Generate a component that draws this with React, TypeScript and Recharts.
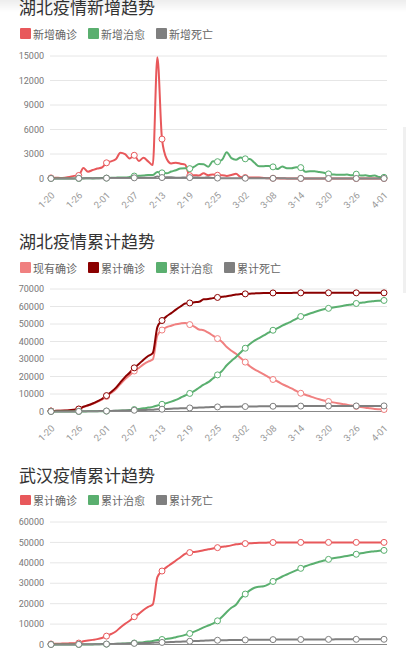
import { LineChart, Line, XAxis, YAxis, CartesianGrid } from 'recharts';

// 日期 1-20 ~ 4-01
const dates = [
  '1-20', '1-21', '1-22', '1-23', '1-24', '1-25', '1-26', '1-27', '1-28', '1-29', '1-30', '1-31',
  '2-01', '2-02', '2-03', '2-04', '2-05', '2-06', '2-07', '2-08', '2-09', '2-10',
  '2-11', '2-12', '2-13', '2-14', '2-15', '2-16', '2-17', '2-18', '2-19', '2-20',
  '2-21', '2-22', '2-23', '2-24', '2-25', '2-26', '2-27', '2-28', '2-29',
  '3-01', '3-02', '3-03', '3-04', '3-05', '3-06', '3-07', '3-08', '3-09', '3-10',
  '3-11', '3-12', '3-13', '3-14', '3-15', '3-16', '3-17', '3-18', '3-19', '3-20',
  '3-21', '3-22', '3-23', '3-24', '3-25', '3-26', '3-27', '3-28', '3-29', '3-30', '3-31',
  '4-01',
];

// 湖北新增
const hbNewConfirmed = [
  72, 105, 69, 105, 180, 323, 371, 1291, 840, 1032, 1220, 1347,
  1921, 2103, 2345, 3156, 2987, 2447, 2841, 2147, 2531, 2097, 1638, 14840, 4823, 2420, 1843, 1933, 1807, 1693,
  349, 411, 366, 630, 398, 499, 401, 409, 318, 423, 570,
  196, 114, 115, 134, 126, 74, 41, 36, 17, 13, 8, 5, 4, 4, 4, 1, 1, 0, 0, 0,
  0, 0, 0, 0, 0, 0, 0, 0, 0, 0, 0,
  0,
];
const hbNewCured = [
  3, 0, 3, 3, 1, 10, 2, 3, 33, 10, 26, 50,
  49, 80, 101, 124, 113, 184, 298, 324, 356, 427, 417, 802, 690, 643, 849, 1016, 1223, 1266,
  1209, 1451, 1769, 1742, 1449, 2106, 2058, 2288, 3203, 2492, 2292,
  2570, 2410, 2389, 1923, 1487, 1502, 1543, 1422, 1152, 1471, 1242, 1255, 1390, 1335, 816, 893, 896, 795, 703, 561,
  491, 446, 445, 487, 390, 531, 366, 396, 299, 360, 173,
  145,
];
const hbNewDead = [
  6, 3, 8, 7, 15, 13, 24, 24, 25, 37, 42, 45,
  45, 56, 64, 65, 70, 69, 81, 81, 91, 103, 94, 242, 116, 139, 139, 100, 93, 132,
  108, 115, 106, 96, 149, 68, 52, 26, 41, 45, 34,
  42, 31, 37, 31, 29, 28, 27, 21, 17, 22, 10, 6, 13, 10, 14, 12, 11, 8, 2, 7,
  5, 9, 7, 3, 6, 5, 3, 5, 4, 1, 6,
  6,
];

// 湖北累计
const hbCurrent = [
  239, 341, 399, 494, 658, 958, 1303, 2567, 3349, 4334, 5486, 6738,
  8565, 10532, 12712, 15679, 18483, 20677, 23139, 24881, 26965, 28532, 29659, 43455, 46537, 48175, 49030, 49847, 50338, 50633,
  49665, 48510, 46855, 46439, 45044, 43369, 41660, 39755, 36829, 34715, 32959,
  30543, 28216, 25905, 24085, 22695, 21239, 19710, 18303, 17151, 15671, 14427, 13171, 11772, 10431, 9605, 8701, 7795, 6992, 6287, 5719,
  5223, 4768, 4317, 3827, 3431, 2895, 2526, 2125, 1822, 1461, 1283,
  1132,
];
const hbConfirmed = [
  270, 375, 444, 549, 729, 1052, 1423, 2714, 3554, 4586, 5806, 7153,
  9074, 11177, 13522, 16678, 19665, 22112, 24953, 27100, 29631, 31728, 33366, 48206, 51986, 54406, 56249, 58182, 59989, 61682,
  62031, 62442, 62662, 64084, 64287, 64786, 65187, 65596, 65914, 66337, 66907,
  67103, 67217, 67332, 67466, 67592, 67666, 67707, 67743, 67760, 67773, 67781, 67786, 67790, 67794, 67798, 67799, 67800, 67800, 67800, 67800,
  67800, 67800, 67801, 67801, 67801, 67801, 67801, 67801, 67801, 67801, 67802,
  67802,
];
const hbCured = [
  25, 25, 28, 31, 32, 42, 44, 47, 80, 90, 116, 166,
  215, 295, 396, 520, 633, 817, 1115, 1439, 1795, 2222, 2639, 3441, 4131, 4774, 5623, 6639, 7862, 9128,
  10337, 11788, 13557, 15299, 16748, 18854, 20912, 23200, 26403, 28895, 31187,
  33757, 36167, 38556, 40479, 41966, 43468, 45011, 46433, 47585, 49056, 50298, 51553, 52943, 54278, 55094, 55987, 56883, 57678, 58381, 58942,
  59433, 59879, 60324, 60811, 61201, 61732, 62098, 62494, 62793, 63153, 63326,
  63471,
];
const hbDead = [
  6, 9, 17, 24, 39, 52, 76, 100, 125, 162, 204, 249,
  294, 350, 414, 479, 549, 618, 699, 780, 871, 974, 1068, 1310, 1318, 1457, 1596, 1696, 1789, 1921,
  2029, 2144, 2250, 2346, 2495, 2563, 2615, 2641, 2682, 2727, 2761,
  2803, 2834, 2871, 2902, 2931, 2959, 2986, 3007, 3024, 3046, 3056, 3062, 3075, 3085, 3099, 3111, 3122, 3130, 3132, 3139,
  3144, 3153, 3160, 3163, 3169, 3174, 3177, 3182, 3186, 3187, 3193,
  3199,
];

// 武汉累计
const whConfirmed = [
  258, 363, 425, 495, 572, 618, 698, 1590, 1905, 2261, 2639, 3215,
  4109, 5142, 6384, 8351, 10117, 11618, 13603, 14982, 16902, 18454, 19558, 32994, 35991, 37914, 39462, 41152, 42752, 44412,
  45027, 45346, 45660, 46201, 46607, 47071, 47441, 47824, 48137, 48557, 49122,
  49315, 49426, 49540, 49671, 49797, 49871, 49912, 49948, 49965, 49978, 49986, 49991, 49995, 49999, 50003, 50004, 50005, 50005, 50005, 50005,
  50005, 50005, 50006, 50006, 50006, 50006, 50006, 50006, 50006, 50006, 50006,
  50007,
];
const whCured = [
  25, 25, 28, 31, 32, 35, 38, 42, 47, 54, 74, 94,
  154, 199, 286, 396, 478, 593, 732, 940, 1155, 1432, 1670, 2183, 2452, 2750, 3100, 3600, 4100, 4700,
  5400, 6300, 7300, 8400, 9300, 10200, 11600, 13600, 15900, 18000, 19500,
  22600, 24700, 26500, 27800, 28300, 28500, 29400, 30900, 32100, 33300, 34300, 35300, 36300, 37300, 38300, 39100, 39800, 40500, 41100, 41700,
  42200, 42600, 43000, 43400, 43800, 44200, 44700, 45100, 45400, 45700, 45900,
  46100,
];
const whDead = [
  6, 9, 17, 23, 38, 45, 63, 85, 104, 129, 159, 192,
  224, 265, 313, 362, 414, 478, 545, 608, 681, 748, 820, 1036, 1016, 1123, 1233, 1309, 1381, 1497,
  1585, 1685, 1774, 1856, 1987, 2043, 2085, 2104, 2132, 2169, 2195,
  2227, 2251, 2282, 2305, 2328, 2349, 2370, 2388, 2404, 2423, 2430, 2436, 2446, 2456, 2469, 2480, 2490, 2498, 2500, 2505,
  2508, 2517, 2524, 2524, 2531, 2535, 2538, 2543, 2547, 2547, 2548,
  2553,
];

const newTicks = [0, 3000, 6000, 9000, 12000, 15000];
const hbTicks = [0, 10000, 20000, 30000, 40000, 50000, 60000, 70000];
const whTicks = [0, 10000, 20000, 30000, 40000, 50000, 60000];

const RED = '#e8585b';
const GREEN = '#5aaf6f';
const GRAY = '#7f7f7f';
const DARK = '#8b0000';
const LIGHT = '#f08080';

const NUM_FONT = 'Roboto, "Noto Sans CJK SC", sans-serif';
const CJK_FONT = '"Noto Sans CJK SC", sans-serif';

const newData = dates.map((d, i) => ({
  date: d, confirmed: hbNewConfirmed[i], cured: hbNewCured[i], dead: hbNewDead[i],
}));
const hbData = dates.map((d, i) => ({
  date: d, current: hbCurrent[i], confirmed: hbConfirmed[i], cured: hbCured[i], dead: hbDead[i],
}));
const whData = dates.map((d, i) => ({
  date: d, confirmed: whConfirmed[i], cured: whCured[i], dead: whDead[i],
}));

interface Series { key: string; name: string; color: string }

const DateTick = ({ x, y, payload }: any) => (
  <text
    x={x + 2}
    y={y}
    dy="0.35em"
    textAnchor="end"
    fill="#999"
    fontSize={9.5}
    fontFamily={NUM_FONT}
    transform={`rotate(-45, ${x + 2}, ${y})`}
  >
    {payload.value}
  </text>
);

// 每6天画一个空心点
const makeDot = (color: string) => (p: any) => {
  if (p.index % 6 !== 0) return <g key={`n${p.index}`} />;
  return <circle key={`d${p.index}`} cx={p.cx} cy={p.cy} r={3} fill="#fff" stroke={color} strokeWidth={1} />;
};

const PLOT_H = 122.5;
const X_AXIS_H = 45;
const M_TOP = 6;

function Panel({ title, titleY, legendY, plotTop, data, series, ticks, showDates = true }: {
  title: string; titleY: number; legendY: number; plotTop: number;
  data: any[]; series: Series[]; ticks: number[]; showDates?: boolean;
}) {
  return (
    <>
      <div style={{
        position: 'absolute', left: 19, top: titleY - 12, height: 24, lineHeight: '24px',
        fontSize: 17, color: '#333', fontFamily: CJK_FONT, whiteSpace: 'nowrap',
      }}>
        {title}
      </div>
      <div style={{ position: 'absolute', left: 20, top: legendY - 7, height: 14, display: 'flex', alignItems: 'center' }}>
        {series.map(s => (
          <div key={s.key} style={{ display: 'flex', alignItems: 'center', marginRight: 11 }}>
            <span style={{ width: 10.5, height: 10.5, background: s.color, borderRadius: 1, marginRight: 2.5 }} />
            <span style={{ fontSize: 11, lineHeight: '14px', color: '#666', fontFamily: CJK_FONT }}>{s.name}</span>
          </div>
        ))}
      </div>
      <div style={{ position: 'absolute', left: 0, top: plotTop - M_TOP }}>
        <LineChart
          width={406}
          height={M_TOP + PLOT_H + X_AXIS_H}
          data={data}
          margin={{ top: M_TOP, right: 19, left: 0, bottom: 0 }}
        >
          <CartesianGrid vertical={false} stroke="#e6e6e6" />
          <XAxis
            dataKey="date"
            interval={5}
            tick={showDates ? <DateTick /> : false}
            tickLine={false}
            tickSize={0}
            tickMargin={15}
            height={X_AXIS_H}
            padding={{ left: 1, right: 3 }}
            axisLine={{ stroke: '#888' }}
          />
          <YAxis
            width={50}
            domain={[0, ticks[ticks.length - 1]]}
            ticks={ticks}
            interval={0}
            axisLine={false}
            tickLine={false}
            tickSize={0}
            tickMargin={6}
            tick={{ fill: '#777', fontSize: 9, fontFamily: NUM_FONT }}
          />
          {series.map(s => (
            <Line
              key={s.key}
              dataKey={s.key}
              type="monotone"
              stroke={s.color}
              strokeWidth={2}
              dot={makeDot(s.color)}
              activeDot={false}
              isAnimationActive={false}
            />
          ))}
        </LineChart>
      </div>
    </>
  );
}

export default function App() {
  return (
    <div style={{
      position: 'fixed', left: 0, top: 0, width: 406, height: 651,
      background: '#fff', overflow: 'hidden',
    }}>
      <Panel
        title="湖北疫情新增趋势"
        titleY={7}
        legendY={33.7}
        plotTop={56.3}
        data={newData}
        ticks={newTicks}
        series={[
          { key: 'confirmed', name: '新增确诊', color: RED },
          { key: 'cured', name: '新增治愈', color: GREEN },
          { key: 'dead', name: '新增死亡', color: GRAY },
        ]}
      />
      <Panel
        title="湖北疫情累计趋势"
        titleY={240.5}
        legendY={267.5}
        plotTop={289.3}
        data={hbData}
        ticks={hbTicks}
        series={[
          { key: 'current', name: '现有确诊', color: LIGHT },
          { key: 'confirmed', name: '累计确诊', color: DARK },
          { key: 'cured', name: '累计治愈', color: GREEN },
          { key: 'dead', name: '累计死亡', color: GRAY },
        ]}
      />
      {/* 第三个图的日期标签在截图之外 */}
      <Panel
        title="武汉疫情累计趋势"
        titleY={475}
        legendY={500.2}
        plotTop={521.7}
        data={whData}
        ticks={whTicks}
        showDates={false}
        series={[
          { key: 'confirmed', name: '累计确诊', color: RED },
          { key: 'cured', name: '累计治愈', color: GREEN },
          { key: 'dead', name: '累计死亡', color: GRAY },
        ]}
      />
      {/* 顶部阴影和滚动条 */}
      <div style={{
        position: 'absolute', left: 0, top: 0, width: 406, height: 12,
        background: 'linear-gradient(rgba(0,0,0,0.07), rgba(0,0,0,0))',
      }} />
      <div style={{ position: 'absolute', left: 403, top: 127, width: 3, height: 166, background: '#f0f0f0' }} />
    </div>
  );
}
